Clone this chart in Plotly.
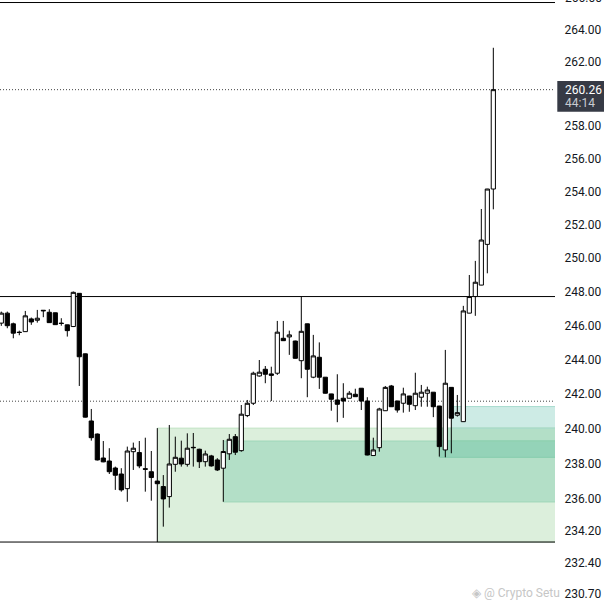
import math
import plotly.graph_objects as go

# ---- candle data (one candle per bar, oldest first) ----
opens = [246.13, 246.72, 246.09, 245.60, 245.63, 246.38, 246.30, 246.89, 246.77, 246.74,
         246.13, 246.03, 245.93, 247.89, 244.33, 240.44, 239.69, 238.32, 238.15, 237.75,
         237.41, 236.58, 238.68, 238.63, 237.71, 237.54, 237.01, 236.70, 236.13, 237.96,
         238.31, 237.96, 238.93, 238.82, 238.11, 238.44, 238.21, 237.74, 238.56, 239.54,
         238.74, 240.75, 241.46, 243.04, 243.43, 243.16, 243.20, 245.24, 245.32, 245.08,
         243.93, 246.09, 242.97, 244.13, 242.97, 242.00, 241.65, 241.75, 241.75, 241.98,
         242.33, 241.59, 238.46, 238.91, 241.03, 242.46, 241.59, 241.46, 241.88, 241.32,
         241.81, 242.04, 242.10, 241.30, 238.78, 242.38, 240.77, 240.40, 246.72, 247.70,
         248.38, 250.81, 254.15]
highs = [246.81, 246.81, 246.16, 245.69, 246.85, 246.46, 246.91, 246.89, 246.95, 246.75,
         246.42, 246.04, 248.00, 247.91, 244.35, 241.13, 239.72, 239.29, 238.88, 237.83,
         237.74, 238.97, 239.20, 239.29, 239.48, 238.72, 240.03, 237.35, 240.21, 239.54,
         239.31, 239.73, 239.75, 238.85, 238.74, 238.50, 238.31, 239.35, 239.69, 239.69,
         241.36, 241.65, 243.29, 243.97, 243.62, 243.58, 246.26, 246.26, 245.69, 245.10,
         247.70, 246.10, 245.44, 245.00, 242.98, 242.01, 243.14, 242.62, 242.17, 242.30,
         242.34, 241.81, 239.48, 241.20, 242.46, 242.52, 241.60, 242.36, 241.89, 243.23,
         242.52, 242.42, 242.11, 241.31, 244.56, 242.39, 241.94, 247.15, 248.98, 249.82,
         252.94, 254.16, 262.88]
lows = [245.97, 245.83, 245.24, 245.42, 245.62, 246.03, 246.16, 246.48, 246.15, 246.03,
        245.98, 245.34, 245.90, 242.46, 240.64, 239.31, 238.18, 238.08, 237.41, 236.51,
        236.41, 235.84, 237.64, 237.74, 236.41, 235.90, 233.58, 234.44, 235.51, 237.54,
        237.83, 237.83, 237.83, 237.75, 237.83, 237.83, 237.58, 235.84, 238.21, 238.49,
        238.68, 240.66, 241.36, 243.00, 242.62, 241.59, 243.10, 245.09, 244.27, 244.05,
        242.91, 241.81, 242.91, 242.29, 242.02, 241.03, 240.37, 240.62, 241.74, 241.83,
        241.07, 238.47, 238.45, 238.68, 241.02, 241.25, 240.92, 240.92, 240.97, 241.07,
        241.26, 241.26, 240.66, 238.40, 238.36, 238.59, 240.69, 240.39, 246.71, 246.56,
        248.37, 249.08, 252.92]
closes = [246.72, 245.98, 245.54, 245.58, 246.56, 246.20, 246.42, 246.86, 246.16, 246.04,
          246.11, 245.69, 247.95, 244.16, 240.66, 239.48, 238.21, 238.10, 237.54, 237.34,
          236.51, 238.72, 238.88, 237.87, 237.68, 237.21, 236.86, 236.00, 237.98, 238.36,
          237.98, 238.88, 238.91, 238.11, 238.55, 237.87, 237.64, 238.69, 239.39, 238.65,
          240.83, 241.46, 243.20, 243.26, 243.14, 243.08, 245.60, 245.10, 245.44, 244.07,
          245.65, 243.43, 244.21, 242.97, 242.04, 241.69, 241.40, 241.59, 242.04, 241.84,
          241.59, 238.49, 238.78, 241.13, 242.38, 241.26, 241.07, 242.00, 241.40, 242.04,
          242.10, 242.23, 241.26, 238.97, 242.62, 240.60, 240.92, 246.85, 247.70, 248.55,
          251.07, 254.15, 260.26]
bars = list(range(len(opens)))

# ---- price axis labels ----
tick_values = [230.70, 232.40, 234.20, 236.00, 238.00, 240.00, 242.00, 244.00, 246.00,
               248.00, 250.00, 252.00, 254.00, 256.00, 258.00, 262.00, 264.00]
tick_labels = [f"{v:.2f}" for v in tick_values]
top_cut_label = "266.00"

# ---- drawn levels ----
solid_levels = [265.74, 247.70, 233.58]
dotted_levels = [260.26, 241.58]
last_price = "260.26"
countdown = "44:14"

# ---- zones: (start bar, top price, bottom price, fill, border) ----
zones = [
    (26, 240.03, 233.58, "#dcefdc", "#c3e4c6"),
    (37, 239.29, 235.83, "#b3dfc7", "#9fd6b9"),
    (73, 240.03, 239.29, "#b3dfc7", "#a3d8bd"),
    (73, 239.29, 238.36, "#94d3b8", "#85cdad"),
    (75, 241.27, 240.03, "#cdebe5", "#a9dccf"),
]

x_range = [-0.217, 92.28]
y_lo, y_hi = 229.98, 265.90

fig = go.Figure()
fig.add_trace(go.Candlestick(
    x=bars, open=opens, high=highs, low=lows, close=closes,
    increasing=dict(line=dict(color="#000000", width=1), fillcolor="#ffffff"),
    decreasing=dict(line=dict(color="#000000", width=1), fillcolor="#000000"),
    whiskerwidth=0, hoverinfo="skip", showlegend=False,
))

shapes = []
for start, top, bot, fill, border in zones:
    shapes.append(dict(type="rect", xref="x", yref="y", x0=start, x1=x_range[1] + 1,
                       y0=bot, y1=top, fillcolor=fill, line=dict(width=0), layer="below"))
for start, top, bot, fill, border in zones:
    for lv in (top, bot):
        shapes.append(dict(type="line", xref="x", yref="y", x0=start, x1=x_range[1] + 1,
                           y0=lv, y1=lv, line=dict(color=border, width=1), layer="below"))
for lv in solid_levels:
    shapes.append(dict(type="line", xref="x", yref="y", x0=x_range[0] - 1, x1=x_range[1] + 1,
                       y0=lv, y1=lv, line=dict(color="#000000", width=1), layer="below"))
for lv in dotted_levels:
    shapes.append(dict(type="line", xref="x", yref="y", x0=x_range[0], x1=x_range[1],
                       y0=lv, y1=lv,
                       line=dict(color="#444444", width=1, dash="1px,2px"), layer="below"))

H = 607.0
PW = 555.0
# price tag box on the axis
shapes.append(dict(type="rect", xref="paper", yref="paper",
                   x0=557.3 / PW, x1=604.0 / PW, y0=1 - 111.7 / H, y1=1 - 81.0 / H,
                   fillcolor="#363a45", line=dict(width=0), layer="above"))

annotations = [
    dict(text=last_price, xref="paper", yref="paper", x=1, xshift=8, xanchor="left",
         y=1 - 89.5 / H, yanchor="middle", showarrow=False,
         font=dict(family="Roboto", size=12, color="#ffffff")),
    dict(text=countdown, xref="paper", yref="paper", x=1, xshift=8, xanchor="left",
         y=1 - 103.5 / H, yanchor="middle", showarrow=False,
         font=dict(family="Roboto", size=12, color="#c9cbd1")),
    dict(text=top_cut_label, xref="paper", yref="paper", x=1, xshift=8, xanchor="left",
         y=1 + 2 / H, yanchor="middle", showarrow=False,
         font=dict(family="Roboto", size=12, color="#131722")),
    dict(text="◈ @ Crypto Setu", xref="paper", yref="paper", x=561.5 / PW, xanchor="right",
         y=1 - 593 / H, yanchor="middle", showarrow=False,
         font=dict(family="Roboto", size=12, color="#c6c6c6")),
]

fig.update_layout(
    width=607, height=607,
    margin=dict(l=0, r=52, t=0, b=0),
    paper_bgcolor="#ffffff", plot_bgcolor="#ffffff",
    boxgap=0.3, boxgroupgap=0,
    shapes=shapes, annotations=annotations,
    showlegend=False, hovermode=False,
    xaxis=dict(range=x_range, showticklabels=False, showgrid=False, zeroline=False,
               showline=False, ticks="", rangeslider=dict(visible=False), fixedrange=True),
    yaxis=dict(type="log", side="right", range=[math.log10(y_lo), math.log10(y_hi)],
               tickmode="array", tickvals=tick_values, ticktext=tick_labels,
               showgrid=False, zeroline=False, showline=False,
               ticks="outside", ticklen=6, tickcolor="rgba(0,0,0,0)",
               tickfont=dict(family="Roboto", size=12, color="#131722"), fixedrange=True),
)

fig.write_html("out.html", config={"displayModeBar": False},
               post_script="document.body.style.margin='0px';document.body.style.padding='0px';"
                           "document.body.style.overflow='hidden';")
